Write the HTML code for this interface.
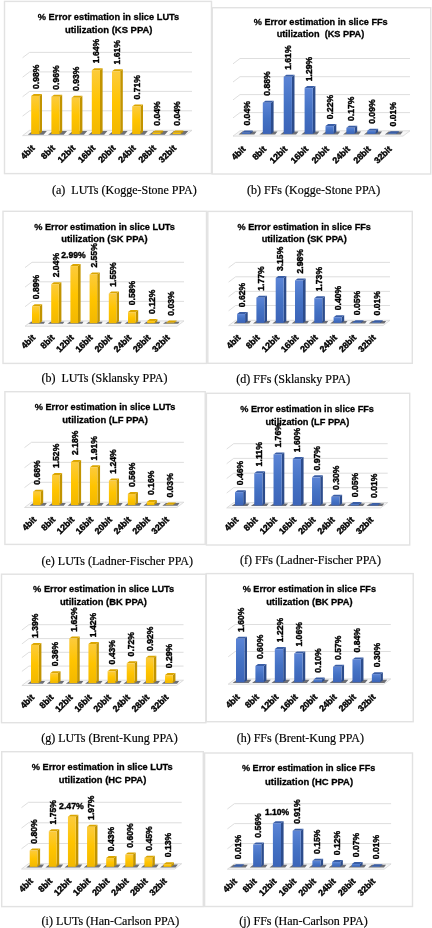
<!DOCTYPE html>
<html><head><meta charset="utf-8"><style>
html,body{margin:0;padding:0;background:#fff;}
body{width:432px;height:928px;overflow:hidden;position:relative;}
svg{position:absolute;left:0;top:0;will-change:transform;filter:blur(0.3px);}
.bx{fill:none;stroke:#e2e2e2;stroke-width:1.4;}
.gl{fill:none;stroke:#dadada;stroke-width:0.9;}
.fl{fill:#f7f7f7;stroke:#d6d6d6;stroke-width:0.8;}
.sh{fill:#3a3c44;opacity:.72;}
.sy{fill:#c29400;} .ty{fill:#dba600;}
.sb{fill:#2c4c8c;} .tb{fill:#3a5ea6;}
text{font-family:"Liberation Sans",sans-serif;}
.vl{font-size:9.8px;font-weight:bold;fill:#000;stroke:#000;stroke-width:0.42px;}
.xl{font-size:8.75px;font-weight:bold;fill:#000;text-anchor:end;stroke:#000;stroke-width:0.42px;}
.tt{font-size:9.6px;font-weight:bold;fill:#000;stroke:#000;stroke-width:0.3px;}
.cp{font-family:"Liberation Serif",serif;font-size:12px;fill:#000;stroke:#000;stroke-width:0.18px;}
</style></head><body>
<svg width="432" height="928" viewBox="0 0 432 928">
<defs>
<filter id="bl" x="-5%" y="-50%" width="110%" height="200%"><feGaussianBlur stdDeviation="0.45"/></filter>
<linearGradient id="fy" x1="0" y1="0" x2="0" y2="1"><stop offset="0" stop-color="#fccb3c"/><stop offset=".5" stop-color="#ffc400"/><stop offset="1" stop-color="#f2b800"/></linearGradient>
<linearGradient id="fb" x1="0" y1="0" x2="0" y2="1"><stop offset="0" stop-color="#5b84d6"/><stop offset=".5" stop-color="#4472c4"/><stop offset="1" stop-color="#3c64b8"/></linearGradient>
</defs>
<rect x="4.5" y="1.4" width="207" height="172.2" class="bx"/>
<path d="M22.6 57.7L29.6 52.4H192" class="gl"/>
<path d="M22.6 77.2L29.6 71.9H192" class="gl"/>
<path d="M22.6 96.7L29.6 91.4H192" class="gl"/>
<path d="M22.6 116.1L29.6 110.8H192" class="gl"/>
<path d="M22.6 135.6L29.6 130.3H192L185 135.6Z" class="fl"/>
<path d="M27.8 134.7L32.55 131.1H46.85L43.6 134.7ZM48 134.7L52.75 131.1H67.05L63.8 134.7ZM68.2 134.7L72.95 131.1H87.25L84 134.7ZM88.4 134.7L93.15 131.1H107.45L104.2 134.7ZM108.6 134.7L113.35 131.1H127.65L124.4 134.7ZM128.8 134.7L133.55 131.1H147.85L144.6 134.7ZM149 134.7L153.75 131.1H168.05L164.8 134.7ZM169.2 134.7L173.95 131.1H188.25L185 134.7Z" class="sh" filter="url(#bl)"/>
<path d="M39.4 95.88l2.6 -2.0V132.1l-2.6 2.0Z" class="sy"/>
<path d="M31.2 95.88l2.6 -2.0h8.2l-2.6 2.0Z" class="ty"/>
<rect x="31.2" y="95.88" width="8.2" height="38.22" fill="url(#fy)"/>
<path d="M59.6 96.66l2.6 -2.0V132.1l-2.6 2.0Z" class="sy"/>
<path d="M51.4 96.66l2.6 -2.0h8.2l-2.6 2.0Z" class="ty"/>
<rect x="51.4" y="96.66" width="8.2" height="37.44" fill="url(#fy)"/>
<path d="M79.8 97.83l2.6 -2.0V132.1l-2.6 2.0Z" class="sy"/>
<path d="M71.6 97.83l2.6 -2.0h8.2l-2.6 2.0Z" class="ty"/>
<rect x="71.6" y="97.83" width="8.2" height="36.27" fill="url(#fy)"/>
<path d="M100 70.14l2.6 -2.0V132.1l-2.6 2.0Z" class="sy"/>
<path d="M91.8 70.14l2.6 -2.0h8.2l-2.6 2.0Z" class="ty"/>
<rect x="91.8" y="70.14" width="8.2" height="63.96" fill="url(#fy)"/>
<path d="M120.2 71.31l2.6 -2.0V132.1l-2.6 2.0Z" class="sy"/>
<path d="M112 71.31l2.6 -2.0h8.2l-2.6 2.0Z" class="ty"/>
<rect x="112" y="71.31" width="8.2" height="62.79" fill="url(#fy)"/>
<path d="M140.4 106.41l2.6 -2.0V132.1l-2.6 2.0Z" class="sy"/>
<path d="M132.2 106.41l2.6 -2.0h8.2l-2.6 2.0Z" class="ty"/>
<rect x="132.2" y="106.41" width="8.2" height="27.69" fill="url(#fy)"/>
<path d="M160.6 132.54l2.6 -2.0V132.1l-2.6 2.0Z" class="sy"/>
<path d="M152.4 132.54l2.6 -2.0h8.2l-2.6 2.0Z" class="ty"/>
<rect x="152.4" y="132.54" width="8.2" height="1.56" fill="url(#fy)"/>
<path d="M180.8 132.54l2.6 -2.0V132.1l-2.6 2.0Z" class="sy"/>
<path d="M172.6 132.54l2.6 -2.0h8.2l-2.6 2.0Z" class="ty"/>
<rect x="172.6" y="132.54" width="8.2" height="1.56" fill="url(#fy)"/>
<text transform="translate(38.8 88.98) rotate(-90)" class="vl" textLength="24.4" lengthAdjust="spacingAndGlyphs">0.98%</text>
<text transform="translate(59 89.76) rotate(-90)" class="vl" textLength="24.4" lengthAdjust="spacingAndGlyphs">0.96%</text>
<text transform="translate(79.2 90.93) rotate(-90)" class="vl" textLength="24.4" lengthAdjust="spacingAndGlyphs">0.93%</text>
<text transform="translate(99.4 63.24) rotate(-90)" class="vl" textLength="24.4" lengthAdjust="spacingAndGlyphs">1.64%</text>
<text transform="translate(119.6 64.41) rotate(-90)" class="vl" textLength="24.4" lengthAdjust="spacingAndGlyphs">1.61%</text>
<text transform="translate(139.8 99.51) rotate(-90)" class="vl" textLength="24.4" lengthAdjust="spacingAndGlyphs">0.71%</text>
<text transform="translate(160 125.64) rotate(-90)" class="vl" textLength="24.4" lengthAdjust="spacingAndGlyphs">0.04%</text>
<text transform="translate(180.2 125.64) rotate(-90)" class="vl" textLength="24.4" lengthAdjust="spacingAndGlyphs">0.04%</text>
<text transform="translate(35.3 148.7) rotate(-45)" class="xl">4bit</text>
<text transform="translate(55.5 148.7) rotate(-45)" class="xl">8bit</text>
<text transform="translate(75.7 148.7) rotate(-45)" class="xl">12bit</text>
<text transform="translate(95.9 148.7) rotate(-45)" class="xl">16bit</text>
<text transform="translate(116.1 148.7) rotate(-45)" class="xl">20bit</text>
<text transform="translate(136.3 148.7) rotate(-45)" class="xl">24bit</text>
<text transform="translate(156.5 148.7) rotate(-45)" class="xl">28bit</text>
<text transform="translate(176.7 148.7) rotate(-45)" class="xl">32bit</text>
<text x="37.8" y="19.8" class="tt" textLength="141.4" lengthAdjust="spacingAndGlyphs">% Error estimation in slice LUTs</text>
<text x="64.9" y="32.7" class="tt" textLength="87.6" lengthAdjust="spacingAndGlyphs">utilization (KS PPA)</text>
<text x="52" y="194.4" class="cp">(a)  LUTs (Kogge-Stone PPA)</text>
<rect x="212.2" y="7.7" width="218.5" height="166.3" class="bx"/>
<path d="M233 63.8L240 58.5H410" class="gl"/>
<path d="M233 82L240 76.7H410" class="gl"/>
<path d="M233 99.9L240 94.6H410" class="gl"/>
<path d="M233 117.9L240 112.6H410" class="gl"/>
<path d="M233 136.1L240 130.8H410L403 136.1Z" class="fl"/>
<path d="M238.5 134.5L242.33 131.6H256.63L254.3 134.5ZM259.4 134.5L263.23 131.6H277.53L275.2 134.5ZM280.3 134.5L284.13 131.6H298.43L296.1 134.5ZM301.2 134.5L305.03 131.6H319.33L317 134.5ZM322.1 134.5L325.93 131.6H340.23L337.9 134.5ZM343 134.5L346.83 131.6H361.13L358.8 134.5ZM363.9 134.5L367.73 131.6H382.03L379.7 134.5ZM384.8 134.5L388.63 131.6H402.93L400.6 134.5Z" class="sh" filter="url(#bl)"/>
<path d="M250.1 132.48l2.6 -2.0V131.9l-2.6 2.0Z" class="sb"/>
<path d="M241.9 132.48l2.6 -2.0h8.2l-2.6 2.0Z" class="tb"/>
<rect x="241.9" y="132.48" width="8.2" height="1.42" fill="url(#fb)"/>
<path d="M271 102.66l2.6 -2.0V131.9l-2.6 2.0Z" class="sb"/>
<path d="M262.8 102.66l2.6 -2.0h8.2l-2.6 2.0Z" class="tb"/>
<rect x="262.8" y="102.66" width="8.2" height="31.24" fill="url(#fb)"/>
<path d="M291.9 76.75l2.6 -2.0V131.9l-2.6 2.0Z" class="sb"/>
<path d="M283.7 76.75l2.6 -2.0h8.2l-2.6 2.0Z" class="tb"/>
<rect x="283.7" y="76.75" width="8.2" height="57.16" fill="url(#fb)"/>
<path d="M312.8 88.11l2.6 -2.0V131.9l-2.6 2.0Z" class="sb"/>
<path d="M304.6 88.11l2.6 -2.0h8.2l-2.6 2.0Z" class="tb"/>
<rect x="304.6" y="88.11" width="8.2" height="45.8" fill="url(#fb)"/>
<path d="M333.7 126.09l2.6 -2.0V131.9l-2.6 2.0Z" class="sb"/>
<path d="M325.5 126.09l2.6 -2.0h8.2l-2.6 2.0Z" class="tb"/>
<rect x="325.5" y="126.09" width="8.2" height="7.81" fill="url(#fb)"/>
<path d="M354.6 127.87l2.6 -2.0V131.9l-2.6 2.0Z" class="sb"/>
<path d="M346.4 127.87l2.6 -2.0h8.2l-2.6 2.0Z" class="tb"/>
<rect x="346.4" y="127.87" width="8.2" height="6.04" fill="url(#fb)"/>
<path d="M375.5 130.71l2.6 -2.0V131.9l-2.6 2.0Z" class="sb"/>
<path d="M367.3 130.71l2.6 -2.0h8.2l-2.6 2.0Z" class="tb"/>
<rect x="367.3" y="130.71" width="8.2" height="3.19" fill="url(#fb)"/>
<path d="M396.4 133.3l2.6 -2.0V131.9l-2.6 2.0Z" class="sb"/>
<path d="M388.2 133.3l2.6 -2.0h8.2l-2.6 2.0Z" class="tb"/>
<rect x="388.2" y="133.3" width="8.2" height="0.6" fill="url(#fb)"/>
<text transform="translate(249.5 125.58) rotate(-90)" class="vl" textLength="24.4" lengthAdjust="spacingAndGlyphs">0.04%</text>
<text transform="translate(270.4 95.76) rotate(-90)" class="vl" textLength="24.4" lengthAdjust="spacingAndGlyphs">0.88%</text>
<text transform="translate(291.3 69.84) rotate(-90)" class="vl" textLength="24.4" lengthAdjust="spacingAndGlyphs">1.61%</text>
<text transform="translate(312.2 81.2) rotate(-90)" class="vl" textLength="24.4" lengthAdjust="spacingAndGlyphs">1.29%</text>
<text transform="translate(333.1 119.19) rotate(-90)" class="vl" textLength="24.4" lengthAdjust="spacingAndGlyphs">0.22%</text>
<text transform="translate(354 120.97) rotate(-90)" class="vl" textLength="24.4" lengthAdjust="spacingAndGlyphs">0.17%</text>
<text transform="translate(374.9 123.81) rotate(-90)" class="vl" textLength="24.4" lengthAdjust="spacingAndGlyphs">0.09%</text>
<text transform="translate(395.8 126.4) rotate(-90)" class="vl" textLength="24.4" lengthAdjust="spacingAndGlyphs">0.01%</text>
<text transform="translate(246 149.6) rotate(-45)" class="xl">4bit</text>
<text transform="translate(266.9 149.6) rotate(-45)" class="xl">8bit</text>
<text transform="translate(287.8 149.6) rotate(-45)" class="xl">12bit</text>
<text transform="translate(308.7 149.6) rotate(-45)" class="xl">16bit</text>
<text transform="translate(329.6 149.6) rotate(-45)" class="xl">20bit</text>
<text transform="translate(350.5 149.6) rotate(-45)" class="xl">24bit</text>
<text transform="translate(371.4 149.6) rotate(-45)" class="xl">28bit</text>
<text transform="translate(392.3 149.6) rotate(-45)" class="xl">32bit</text>
<text x="253.7" y="24.6" class="tt" textLength="134" lengthAdjust="spacingAndGlyphs">% Error estimation in slice FFs</text>
<text x="276.7" y="37.1" class="tt" textLength="87.6" lengthAdjust="spacingAndGlyphs">utilization  (KS PPA)</text>
<text x="247" y="194.4" class="cp">(b) FFs (Kogge-Stone PPA)</text>
<rect x="3" y="211.3" width="203.5" height="152.1" class="bx"/>
<path d="M25 267.6L32 262.3H184" class="gl"/>
<path d="M25 287.1L32 281.8H184" class="gl"/>
<path d="M25 306.7L32 301.4H184" class="gl"/>
<path d="M25 326.2L32 320.9H184L177 326.2Z" class="fl"/>
<path d="M28.6 323.8L31.37 321.7H45.07L43.8 323.8ZM47.8 323.8L50.57 321.7H64.27L63 323.8ZM67 323.8L69.77 321.7H83.47L82.2 323.8ZM86.2 323.8L88.97 321.7H102.67L101.4 323.8ZM105.4 323.8L108.17 321.7H121.87L120.6 323.8ZM124.6 323.8L127.37 321.7H141.07L139.8 323.8ZM143.8 323.8L146.57 321.7H160.27L159 323.8ZM163 323.8L165.77 321.7H179.47L178.2 323.8Z" class="sh" filter="url(#bl)"/>
<path d="M39.6 306.2l2.6 -2.0V321.2l-2.6 2.0Z" class="sy"/>
<path d="M32 306.2l2.6 -2.0h7.6l-2.6 2.0Z" class="ty"/>
<rect x="32" y="306.2" width="7.6" height="17" fill="url(#fy)"/>
<path d="M58.8 284.24l2.6 -2.0V321.2l-2.6 2.0Z" class="sy"/>
<path d="M51.2 284.24l2.6 -2.0h7.6l-2.6 2.0Z" class="ty"/>
<rect x="51.2" y="284.24" width="7.6" height="38.96" fill="url(#fy)"/>
<path d="M78 266.09l2.6 -2.0V321.2l-2.6 2.0Z" class="sy"/>
<path d="M70.4 266.09l2.6 -2.0h7.6l-2.6 2.0Z" class="ty"/>
<rect x="70.4" y="266.09" width="7.6" height="57.11" fill="url(#fy)"/>
<path d="M97.2 274.5l2.6 -2.0V321.2l-2.6 2.0Z" class="sy"/>
<path d="M89.6 274.5l2.6 -2.0h7.6l-2.6 2.0Z" class="ty"/>
<rect x="89.6" y="274.5" width="7.6" height="48.7" fill="url(#fy)"/>
<path d="M116.4 293.59l2.6 -2.0V321.2l-2.6 2.0Z" class="sy"/>
<path d="M108.8 293.59l2.6 -2.0h7.6l-2.6 2.0Z" class="ty"/>
<rect x="108.8" y="293.59" width="7.6" height="29.61" fill="url(#fy)"/>
<path d="M135.6 312.12l2.6 -2.0V321.2l-2.6 2.0Z" class="sy"/>
<path d="M128 312.12l2.6 -2.0h7.6l-2.6 2.0Z" class="ty"/>
<rect x="128" y="312.12" width="7.6" height="11.08" fill="url(#fy)"/>
<path d="M154.8 320.91l2.6 -2.0V321.2l-2.6 2.0Z" class="sy"/>
<path d="M147.2 320.91l2.6 -2.0h7.6l-2.6 2.0Z" class="ty"/>
<rect x="147.2" y="320.91" width="7.6" height="2.29" fill="url(#fy)"/>
<path d="M174 322.6l2.6 -2.0V321.2l-2.6 2.0Z" class="sy"/>
<path d="M166.4 322.6l2.6 -2.0h7.6l-2.6 2.0Z" class="ty"/>
<rect x="166.4" y="322.6" width="7.6" height="0.6" fill="url(#fy)"/>
<text transform="translate(39.3 299.3) rotate(-90)" class="vl" textLength="24.4" lengthAdjust="spacingAndGlyphs">0.89%</text>
<text transform="translate(58.5 277.34) rotate(-90)" class="vl" textLength="24.4" lengthAdjust="spacingAndGlyphs">2.04%</text>
<text x="61.3" y="258.3" class="vl" textLength="24.4" lengthAdjust="spacingAndGlyphs">2.99%</text>
<text transform="translate(96.9 267.6) rotate(-90)" class="vl" textLength="24.4" lengthAdjust="spacingAndGlyphs">2.55%</text>
<text transform="translate(116.1 286.69) rotate(-90)" class="vl" textLength="24.4" lengthAdjust="spacingAndGlyphs">1.55%</text>
<text transform="translate(135.3 305.22) rotate(-90)" class="vl" textLength="24.4" lengthAdjust="spacingAndGlyphs">0.58%</text>
<text transform="translate(154.5 314.01) rotate(-90)" class="vl" textLength="24.4" lengthAdjust="spacingAndGlyphs">0.12%</text>
<text transform="translate(173.7 315.7) rotate(-90)" class="vl" textLength="24.4" lengthAdjust="spacingAndGlyphs">0.03%</text>
<text transform="translate(35.8 338.3) rotate(-45)" class="xl">4bit</text>
<text transform="translate(55 338.3) rotate(-45)" class="xl">8bit</text>
<text transform="translate(74.2 338.3) rotate(-45)" class="xl">12bit</text>
<text transform="translate(93.4 338.3) rotate(-45)" class="xl">16bit</text>
<text transform="translate(112.6 338.3) rotate(-45)" class="xl">20bit</text>
<text transform="translate(131.8 338.3) rotate(-45)" class="xl">24bit</text>
<text transform="translate(151 338.3) rotate(-45)" class="xl">28bit</text>
<text transform="translate(170.2 338.3) rotate(-45)" class="xl">32bit</text>
<text x="34.2" y="230" class="tt" textLength="140.7" lengthAdjust="spacingAndGlyphs">% Error estimation in slice LUTs</text>
<text x="61.2" y="242.4" class="tt" textLength="86.5" lengthAdjust="spacingAndGlyphs">utilization (SK PPA)</text>
<text x="41.4" y="381.8" class="cp">(b)  LUTs (Sklansky PPA)</text>
<rect x="207.8" y="211.4" width="204.5" height="151.9" class="bx"/>
<path d="M228.6 267.7L235.6 262.4H390" class="gl"/>
<path d="M228.6 282.1L235.6 276.8H390" class="gl"/>
<path d="M228.6 296.7L235.6 291.4H390" class="gl"/>
<path d="M228.6 310.8L235.6 305.5H390" class="gl"/>
<path d="M228.6 325.6L235.6 320.3H390L383 325.6Z" class="fl"/>
<path d="M233.7 323.5L236.87 321.1H250.97L249.3 323.5ZM253 323.5L256.17 321.1H270.27L268.6 323.5ZM272.3 323.5L275.47 321.1H289.57L287.9 323.5ZM291.6 323.5L294.77 321.1H308.87L307.2 323.5ZM310.9 323.5L314.07 321.1H328.17L326.5 323.5ZM330.2 323.5L333.37 321.1H347.47L345.8 323.5ZM349.5 323.5L352.67 321.1H366.77L365.1 323.5ZM368.8 323.5L371.97 321.1H386.07L384.4 323.5Z" class="sh" filter="url(#bl)"/>
<path d="M245.1 314.06l2.6 -2.0V320.9l-2.6 2.0Z" class="sb"/>
<path d="M237.1 314.06l2.6 -2.0h8.0l-2.6 2.0Z" class="tb"/>
<rect x="237.1" y="314.06" width="8.0" height="8.83" fill="url(#fb)"/>
<path d="M264.4 297.68l2.6 -2.0V320.9l-2.6 2.0Z" class="sb"/>
<path d="M256.4 297.68l2.6 -2.0h8.0l-2.6 2.0Z" class="tb"/>
<rect x="256.4" y="297.68" width="8.0" height="25.22" fill="url(#fb)"/>
<path d="M283.7 278.01l2.6 -2.0V320.9l-2.6 2.0Z" class="sb"/>
<path d="M275.7 278.01l2.6 -2.0h8.0l-2.6 2.0Z" class="tb"/>
<rect x="275.7" y="278.01" width="8.0" height="44.89" fill="url(#fb)"/>
<path d="M303 280.44l2.6 -2.0V320.9l-2.6 2.0Z" class="sb"/>
<path d="M295 280.44l2.6 -2.0h8.0l-2.6 2.0Z" class="tb"/>
<rect x="295" y="280.44" width="8.0" height="42.46" fill="url(#fb)"/>
<path d="M322.3 298.25l2.6 -2.0V320.9l-2.6 2.0Z" class="sb"/>
<path d="M314.3 298.25l2.6 -2.0h8.0l-2.6 2.0Z" class="tb"/>
<rect x="314.3" y="298.25" width="8.0" height="24.65" fill="url(#fb)"/>
<path d="M341.6 317.2l2.6 -2.0V320.9l-2.6 2.0Z" class="sb"/>
<path d="M333.6 317.2l2.6 -2.0h8.0l-2.6 2.0Z" class="tb"/>
<rect x="333.6" y="317.2" width="8.0" height="5.7" fill="url(#fb)"/>
<path d="M360.9 322.19l2.6 -2.0V320.9l-2.6 2.0Z" class="sb"/>
<path d="M352.9 322.19l2.6 -2.0h8.0l-2.6 2.0Z" class="tb"/>
<rect x="352.9" y="322.19" width="8.0" height="0.71" fill="url(#fb)"/>
<path d="M380.2 322.3l2.6 -2.0V320.9l-2.6 2.0Z" class="sb"/>
<path d="M372.2 322.3l2.6 -2.0h8.0l-2.6 2.0Z" class="tb"/>
<rect x="372.2" y="322.3" width="8.0" height="0.6" fill="url(#fb)"/>
<text transform="translate(244.6 307.17) rotate(-90)" class="vl" textLength="24.4" lengthAdjust="spacingAndGlyphs">0.62%</text>
<text transform="translate(263.9 290.78) rotate(-90)" class="vl" textLength="24.4" lengthAdjust="spacingAndGlyphs">1.77%</text>
<text transform="translate(283.2 271.11) rotate(-90)" class="vl" textLength="24.4" lengthAdjust="spacingAndGlyphs">3.15%</text>
<text transform="translate(302.5 273.54) rotate(-90)" class="vl" textLength="24.4" lengthAdjust="spacingAndGlyphs">2.98%</text>
<text transform="translate(321.8 291.35) rotate(-90)" class="vl" textLength="24.4" lengthAdjust="spacingAndGlyphs">1.73%</text>
<text transform="translate(341.1 310.3) rotate(-90)" class="vl" textLength="24.4" lengthAdjust="spacingAndGlyphs">0.40%</text>
<text transform="translate(360.4 315.29) rotate(-90)" class="vl" textLength="24.4" lengthAdjust="spacingAndGlyphs">0.05%</text>
<text transform="translate(379.7 315.4) rotate(-90)" class="vl" textLength="24.4" lengthAdjust="spacingAndGlyphs">0.01%</text>
<text transform="translate(241.1 338.2) rotate(-45)" class="xl">4bit</text>
<text transform="translate(260.4 338.2) rotate(-45)" class="xl">8bit</text>
<text transform="translate(279.7 338.2) rotate(-45)" class="xl">12bit</text>
<text transform="translate(299 338.2) rotate(-45)" class="xl">16bit</text>
<text transform="translate(318.3 338.2) rotate(-45)" class="xl">20bit</text>
<text transform="translate(337.6 338.2) rotate(-45)" class="xl">24bit</text>
<text transform="translate(356.9 338.2) rotate(-45)" class="xl">28bit</text>
<text transform="translate(376.2 338.2) rotate(-45)" class="xl">32bit</text>
<text x="237.5" y="229.6" class="tt" textLength="133.4" lengthAdjust="spacingAndGlyphs">% Error estimation in slice FFs</text>
<text x="261.7" y="242.1" class="tt" textLength="85.1" lengthAdjust="spacingAndGlyphs">utilization (SK PPA)</text>
<text x="236.3" y="383.2" class="cp">(d) FFs (Sklansky PPA)</text>
<rect x="4.9" y="391.7" width="200.3" height="152.7" class="bx"/>
<path d="M24.5 447.6L31.5 442.3H183.9" class="gl"/>
<path d="M24.5 467.7L31.5 462.4H183.9" class="gl"/>
<path d="M24.5 487.6L31.5 482.3H183.9" class="gl"/>
<path d="M24.5 507.5L31.5 502.2H183.9L176.9 507.5Z" class="fl"/>
<path d="M29.7 505.7L33.27 503H46.87L44.8 505.7ZM48.65 505.7L52.22 503H65.82L63.75 505.7ZM67.6 505.7L71.17 503H84.77L82.7 505.7ZM86.55 505.7L90.12 503H103.72L101.65 505.7ZM105.5 505.7L109.07 503H122.67L120.6 505.7ZM124.45 505.7L128.02 503H141.62L139.55 505.7ZM143.4 505.7L146.97 503H160.57L158.5 505.7ZM162.35 505.7L165.92 503H179.52L177.45 505.7Z" class="sh" filter="url(#bl)"/>
<path d="M40.6 491.64l2.6 -2.0V503.1l-2.6 2.0Z" class="sy"/>
<path d="M33.1 491.64l2.6 -2.0h7.5l-2.6 2.0Z" class="ty"/>
<rect x="33.1" y="491.64" width="7.5" height="13.46" fill="url(#fy)"/>
<path d="M59.55 475l2.6 -2.0V503.1l-2.6 2.0Z" class="sy"/>
<path d="M52.05 475l2.6 -2.0h7.5l-2.6 2.0Z" class="ty"/>
<rect x="52.05" y="475" width="7.5" height="30.1" fill="url(#fy)"/>
<path d="M78.5 461.94l2.6 -2.0V503.1l-2.6 2.0Z" class="sy"/>
<path d="M71 461.94l2.6 -2.0h7.5l-2.6 2.0Z" class="ty"/>
<rect x="71" y="461.94" width="7.5" height="43.16" fill="url(#fy)"/>
<path d="M97.45 467.28l2.6 -2.0V503.1l-2.6 2.0Z" class="sy"/>
<path d="M89.95 467.28l2.6 -2.0h7.5l-2.6 2.0Z" class="ty"/>
<rect x="89.95" y="467.28" width="7.5" height="37.82" fill="url(#fy)"/>
<path d="M116.4 480.55l2.6 -2.0V503.1l-2.6 2.0Z" class="sy"/>
<path d="M108.9 480.55l2.6 -2.0h7.5l-2.6 2.0Z" class="ty"/>
<rect x="108.9" y="480.55" width="7.5" height="24.55" fill="url(#fy)"/>
<path d="M135.35 494.01l2.6 -2.0V503.1l-2.6 2.0Z" class="sy"/>
<path d="M127.85 494.01l2.6 -2.0h7.5l-2.6 2.0Z" class="ty"/>
<rect x="127.85" y="494.01" width="7.5" height="11.09" fill="url(#fy)"/>
<path d="M154.3 501.93l2.6 -2.0V503.1l-2.6 2.0Z" class="sy"/>
<path d="M146.8 501.93l2.6 -2.0h7.5l-2.6 2.0Z" class="ty"/>
<rect x="146.8" y="501.93" width="7.5" height="3.17" fill="url(#fy)"/>
<path d="M173.25 504.5l2.6 -2.0V503.1l-2.6 2.0Z" class="sy"/>
<path d="M165.75 504.5l2.6 -2.0h7.5l-2.6 2.0Z" class="ty"/>
<rect x="165.75" y="504.5" width="7.5" height="0.6" fill="url(#fy)"/>
<text transform="translate(40.35 484.74) rotate(-90)" class="vl" textLength="24.4" lengthAdjust="spacingAndGlyphs">0.68%</text>
<text transform="translate(59.3 468.1) rotate(-90)" class="vl" textLength="24.4" lengthAdjust="spacingAndGlyphs">1.52%</text>
<text transform="translate(78.25 455.04) rotate(-90)" class="vl" textLength="24.4" lengthAdjust="spacingAndGlyphs">2.18%</text>
<text transform="translate(97.2 460.38) rotate(-90)" class="vl" textLength="24.4" lengthAdjust="spacingAndGlyphs">1.91%</text>
<text transform="translate(116.15 473.65) rotate(-90)" class="vl" textLength="24.4" lengthAdjust="spacingAndGlyphs">1.24%</text>
<text transform="translate(135.1 487.11) rotate(-90)" class="vl" textLength="24.4" lengthAdjust="spacingAndGlyphs">0.56%</text>
<text transform="translate(154.05 495.03) rotate(-90)" class="vl" textLength="24.4" lengthAdjust="spacingAndGlyphs">0.16%</text>
<text transform="translate(173 497.6) rotate(-90)" class="vl" textLength="24.4" lengthAdjust="spacingAndGlyphs">0.03%</text>
<text transform="translate(36.85 520.3) rotate(-45)" class="xl">4bit</text>
<text transform="translate(55.8 520.3) rotate(-45)" class="xl">8bit</text>
<text transform="translate(74.75 520.3) rotate(-45)" class="xl">12bit</text>
<text transform="translate(93.7 520.3) rotate(-45)" class="xl">16bit</text>
<text transform="translate(112.65 520.3) rotate(-45)" class="xl">20bit</text>
<text transform="translate(131.6 520.3) rotate(-45)" class="xl">24bit</text>
<text transform="translate(150.55 520.3) rotate(-45)" class="xl">28bit</text>
<text transform="translate(169.5 520.3) rotate(-45)" class="xl">32bit</text>
<text x="34.7" y="409.7" class="tt" textLength="140.7" lengthAdjust="spacingAndGlyphs">% Error estimation in slice LUTs</text>
<text x="62.3" y="423" class="tt" textLength="85.5" lengthAdjust="spacingAndGlyphs">utilization (LF PPA)</text>
<text x="41.5" y="564.5" class="cp">(e) LUTs (Ladner-Fischer PPA)</text>
<rect x="206.4" y="393.3" width="203.3" height="151.7" class="bx"/>
<path d="M226.7 449L233.7 443.7H387.7" class="gl"/>
<path d="M226.7 463.7L233.7 458.4H387.7" class="gl"/>
<path d="M226.7 478.5L233.7 473.2H387.7" class="gl"/>
<path d="M226.7 493L233.7 487.7H387.7" class="gl"/>
<path d="M226.7 507.9L233.7 502.6H387.7L380.7 507.9Z" class="fl"/>
<path d="M231.6 506.1L235.17 503.4H249.47L247.4 506.1ZM250.86 506.1L254.43 503.4H268.73L266.66 506.1ZM270.12 506.1L273.69 503.4H287.99L285.92 506.1ZM289.38 506.1L292.95 503.4H307.25L305.18 506.1ZM308.64 506.1L312.21 503.4H326.51L324.44 506.1ZM327.9 506.1L331.47 503.4H345.77L343.7 506.1ZM347.16 506.1L350.73 503.4H365.03L362.96 506.1ZM366.42 506.1L369.99 503.4H384.29L382.22 506.1Z" class="sh" filter="url(#bl)"/>
<path d="M243.2 492.16l2.6 -2.0V503.5l-2.6 2.0Z" class="sb"/>
<path d="M235 492.16l2.6 -2.0h8.2l-2.6 2.0Z" class="tb"/>
<rect x="235" y="492.16" width="8.2" height="13.34" fill="url(#fb)"/>
<path d="M262.46 473.31l2.6 -2.0V503.5l-2.6 2.0Z" class="sb"/>
<path d="M254.26 473.31l2.6 -2.0h8.2l-2.6 2.0Z" class="tb"/>
<rect x="254.26" y="473.31" width="8.2" height="32.19" fill="url(#fb)"/>
<path d="M281.72 454.46l2.6 -2.0V503.5l-2.6 2.0Z" class="sb"/>
<path d="M273.52 454.46l2.6 -2.0h8.2l-2.6 2.0Z" class="tb"/>
<rect x="273.52" y="454.46" width="8.2" height="51.04" fill="url(#fb)"/>
<path d="M300.98 459.1l2.6 -2.0V503.5l-2.6 2.0Z" class="sb"/>
<path d="M292.78 459.1l2.6 -2.0h8.2l-2.6 2.0Z" class="tb"/>
<rect x="292.78" y="459.1" width="8.2" height="46.4" fill="url(#fb)"/>
<path d="M320.24 477.37l2.6 -2.0V503.5l-2.6 2.0Z" class="sb"/>
<path d="M312.04 477.37l2.6 -2.0h8.2l-2.6 2.0Z" class="tb"/>
<rect x="312.04" y="477.37" width="8.2" height="28.13" fill="url(#fb)"/>
<path d="M339.5 496.8l2.6 -2.0V503.5l-2.6 2.0Z" class="sb"/>
<path d="M331.3 496.8l2.6 -2.0h8.2l-2.6 2.0Z" class="tb"/>
<rect x="331.3" y="496.8" width="8.2" height="8.7" fill="url(#fb)"/>
<path d="M358.76 504.05l2.6 -2.0V503.5l-2.6 2.0Z" class="sb"/>
<path d="M350.56 504.05l2.6 -2.0h8.2l-2.6 2.0Z" class="tb"/>
<rect x="350.56" y="504.05" width="8.2" height="1.45" fill="url(#fb)"/>
<path d="M378.02 504.9l2.6 -2.0V503.5l-2.6 2.0Z" class="sb"/>
<path d="M369.82 504.9l2.6 -2.0h8.2l-2.6 2.0Z" class="tb"/>
<rect x="369.82" y="504.9" width="8.2" height="0.6" fill="url(#fb)"/>
<text transform="translate(242.6 485.26) rotate(-90)" class="vl" textLength="24.4" lengthAdjust="spacingAndGlyphs">0.46%</text>
<text transform="translate(261.86 466.41) rotate(-90)" class="vl" textLength="24.4" lengthAdjust="spacingAndGlyphs">1.11%</text>
<text transform="translate(281.12 447.56) rotate(-90)" class="vl" textLength="24.4" lengthAdjust="spacingAndGlyphs">1.76%</text>
<text transform="translate(300.38 452.2) rotate(-90)" class="vl" textLength="24.4" lengthAdjust="spacingAndGlyphs">1.60%</text>
<text transform="translate(319.64 470.47) rotate(-90)" class="vl" textLength="24.4" lengthAdjust="spacingAndGlyphs">0.97%</text>
<text transform="translate(338.9 489.9) rotate(-90)" class="vl" textLength="24.4" lengthAdjust="spacingAndGlyphs">0.30%</text>
<text transform="translate(358.16 497.15) rotate(-90)" class="vl" textLength="24.4" lengthAdjust="spacingAndGlyphs">0.05%</text>
<text transform="translate(377.42 498) rotate(-90)" class="vl" textLength="24.4" lengthAdjust="spacingAndGlyphs">0.01%</text>
<text transform="translate(239.1 520.4) rotate(-45)" class="xl">4bit</text>
<text transform="translate(258.36 520.4) rotate(-45)" class="xl">8bit</text>
<text transform="translate(277.62 520.4) rotate(-45)" class="xl">12bit</text>
<text transform="translate(296.88 520.4) rotate(-45)" class="xl">16bit</text>
<text transform="translate(316.14 520.4) rotate(-45)" class="xl">20bit</text>
<text transform="translate(335.4 520.4) rotate(-45)" class="xl">24bit</text>
<text transform="translate(354.66 520.4) rotate(-45)" class="xl">28bit</text>
<text transform="translate(373.92 520.4) rotate(-45)" class="xl">32bit</text>
<text x="240.3" y="411.5" class="tt" textLength="133.6" lengthAdjust="spacingAndGlyphs">% Error estimation in slice FFs</text>
<text x="265.4" y="424.5" class="tt" textLength="83.9" lengthAdjust="spacingAndGlyphs">utilization (LF PPA)</text>
<text x="240" y="563.75" class="cp">(f) FFs (Ladner-Fischer PPA)</text>
<rect x="1.5" y="574.2" width="204.3" height="148.5" class="bx"/>
<path d="M21.9 630L28.9 624.7H183.5" class="gl"/>
<path d="M21.9 643.9L28.9 638.6H183.5" class="gl"/>
<path d="M21.9 657.6L28.9 652.3H183.5" class="gl"/>
<path d="M21.9 671.4L28.9 666.1H183.5" class="gl"/>
<path d="M21.9 685.5L28.9 680.2H183.5L176.5 685.5Z" class="fl"/>
<path d="M27.6 683.7L31.17 681H45.07L43 683.7ZM46.75 683.7L50.32 681H64.22L62.15 683.7ZM65.9 683.7L69.47 681H83.37L81.3 683.7ZM85.05 683.7L88.62 681H102.52L100.45 683.7ZM104.2 683.7L107.77 681H121.67L119.6 683.7ZM123.35 683.7L126.92 681H140.82L138.75 683.7ZM142.5 683.7L146.07 681H159.97L157.9 683.7ZM161.65 683.7L165.22 681H179.12L177.05 683.7Z" class="sh" filter="url(#bl)"/>
<path d="M38.8 644.88l2.6 -2.0V681.1l-2.6 2.0Z" class="sy"/>
<path d="M31 644.88l2.6 -2.0h7.8l-2.6 2.0Z" class="ty"/>
<rect x="31" y="644.88" width="7.8" height="38.22" fill="url(#fy)"/>
<path d="M57.95 673.2l2.6 -2.0V681.1l-2.6 2.0Z" class="sy"/>
<path d="M50.15 673.2l2.6 -2.0h7.8l-2.6 2.0Z" class="ty"/>
<rect x="50.15" y="673.2" width="7.8" height="9.9" fill="url(#fy)"/>
<path d="M77.1 638.55l2.6 -2.0V681.1l-2.6 2.0Z" class="sy"/>
<path d="M69.3 638.55l2.6 -2.0h7.8l-2.6 2.0Z" class="ty"/>
<rect x="69.3" y="638.55" width="7.8" height="44.55" fill="url(#fy)"/>
<path d="M96.25 644.05l2.6 -2.0V681.1l-2.6 2.0Z" class="sy"/>
<path d="M88.45 644.05l2.6 -2.0h7.8l-2.6 2.0Z" class="ty"/>
<rect x="88.45" y="644.05" width="7.8" height="39.05" fill="url(#fy)"/>
<path d="M115.4 671.27l2.6 -2.0V681.1l-2.6 2.0Z" class="sy"/>
<path d="M107.6 671.27l2.6 -2.0h7.8l-2.6 2.0Z" class="ty"/>
<rect x="107.6" y="671.27" width="7.8" height="11.82" fill="url(#fy)"/>
<path d="M134.55 663.3l2.6 -2.0V681.1l-2.6 2.0Z" class="sy"/>
<path d="M126.75 663.3l2.6 -2.0h7.8l-2.6 2.0Z" class="ty"/>
<rect x="126.75" y="663.3" width="7.8" height="19.8" fill="url(#fy)"/>
<path d="M153.7 657.8l2.6 -2.0V681.1l-2.6 2.0Z" class="sy"/>
<path d="M145.9 657.8l2.6 -2.0h7.8l-2.6 2.0Z" class="ty"/>
<rect x="145.9" y="657.8" width="7.8" height="25.3" fill="url(#fy)"/>
<path d="M172.85 675.12l2.6 -2.0V681.1l-2.6 2.0Z" class="sy"/>
<path d="M165.05 675.12l2.6 -2.0h7.8l-2.6 2.0Z" class="ty"/>
<rect x="165.05" y="675.12" width="7.8" height="7.97" fill="url(#fy)"/>
<text transform="translate(38.4 637.98) rotate(-90)" class="vl" textLength="24.4" lengthAdjust="spacingAndGlyphs">1.39%</text>
<text transform="translate(57.55 666.3) rotate(-90)" class="vl" textLength="24.4" lengthAdjust="spacingAndGlyphs">0.36%</text>
<text transform="translate(76.7 631.65) rotate(-90)" class="vl" textLength="24.4" lengthAdjust="spacingAndGlyphs">1.62%</text>
<text transform="translate(95.85 637.15) rotate(-90)" class="vl" textLength="24.4" lengthAdjust="spacingAndGlyphs">1.42%</text>
<text transform="translate(115 664.38) rotate(-90)" class="vl" textLength="24.4" lengthAdjust="spacingAndGlyphs">0.43%</text>
<text transform="translate(134.15 656.4) rotate(-90)" class="vl" textLength="24.4" lengthAdjust="spacingAndGlyphs">0.72%</text>
<text transform="translate(153.3 650.9) rotate(-90)" class="vl" textLength="24.4" lengthAdjust="spacingAndGlyphs">0.92%</text>
<text transform="translate(172.45 668.23) rotate(-90)" class="vl" textLength="24.4" lengthAdjust="spacingAndGlyphs">0.29%</text>
<text transform="translate(34.9 697.95) rotate(-45)" class="xl">4bit</text>
<text transform="translate(54.05 697.95) rotate(-45)" class="xl">8bit</text>
<text transform="translate(73.2 697.95) rotate(-45)" class="xl">12bit</text>
<text transform="translate(92.35 697.95) rotate(-45)" class="xl">16bit</text>
<text transform="translate(111.5 697.95) rotate(-45)" class="xl">20bit</text>
<text transform="translate(130.65 697.95) rotate(-45)" class="xl">24bit</text>
<text transform="translate(149.8 697.95) rotate(-45)" class="xl">28bit</text>
<text transform="translate(168.95 697.95) rotate(-45)" class="xl">32bit</text>
<text x="33.1" y="592" class="tt" textLength="141.1" lengthAdjust="spacingAndGlyphs">% Error estimation in slice LUTs</text>
<text x="59.9" y="605" class="tt" textLength="87" lengthAdjust="spacingAndGlyphs">utilization (BK PPA)</text>
<text x="41.3" y="742" class="cp">(g) LUTs (Brent-Kung PPA)</text>
<rect x="206.25" y="573.6" width="206.95" height="148.1" class="bx"/>
<path d="M228.2 629.8L235.2 624.5H390.8" class="gl"/>
<path d="M228.2 656.8L235.2 651.5H390.8" class="gl"/>
<path d="M228.2 684.2L235.2 678.9H390.8L383.8 684.2Z" class="fl"/>
<path d="M232.6 682.9L236.83 679.7H251.33L248.6 682.9ZM252.01 682.9L256.24 679.7H270.74L268.01 682.9ZM271.42 682.9L275.65 679.7H290.15L287.42 682.9ZM290.83 682.9L295.06 679.7H309.56L306.83 682.9ZM310.24 682.9L314.47 679.7H328.97L326.24 682.9ZM329.65 682.9L333.88 679.7H348.38L345.65 682.9ZM349.06 682.9L353.29 679.7H367.79L365.06 682.9ZM368.47 682.9L372.7 679.7H387.2L384.47 682.9Z" class="sh" filter="url(#bl)"/>
<path d="M244.4 638.78l2.6 -2.0V680.3l-2.6 2.0Z" class="sb"/>
<path d="M236 638.78l2.6 -2.0h8.4l-2.6 2.0Z" class="tb"/>
<rect x="236" y="638.78" width="8.4" height="43.52" fill="url(#fb)"/>
<path d="M263.81 665.98l2.6 -2.0V680.3l-2.6 2.0Z" class="sb"/>
<path d="M255.41 665.98l2.6 -2.0h8.4l-2.6 2.0Z" class="tb"/>
<rect x="255.41" y="665.98" width="8.4" height="16.32" fill="url(#fb)"/>
<path d="M283.22 649.12l2.6 -2.0V680.3l-2.6 2.0Z" class="sb"/>
<path d="M274.82 649.12l2.6 -2.0h8.4l-2.6 2.0Z" class="tb"/>
<rect x="274.82" y="649.12" width="8.4" height="33.18" fill="url(#fb)"/>
<path d="M302.63 653.47l2.6 -2.0V680.3l-2.6 2.0Z" class="sb"/>
<path d="M294.23 653.47l2.6 -2.0h8.4l-2.6 2.0Z" class="tb"/>
<rect x="294.23" y="653.47" width="8.4" height="28.83" fill="url(#fb)"/>
<path d="M322.04 679.58l2.6 -2.0V680.3l-2.6 2.0Z" class="sb"/>
<path d="M313.64 679.58l2.6 -2.0h8.4l-2.6 2.0Z" class="tb"/>
<rect x="313.64" y="679.58" width="8.4" height="2.72" fill="url(#fb)"/>
<path d="M341.45 666.8l2.6 -2.0V680.3l-2.6 2.0Z" class="sb"/>
<path d="M333.05 666.8l2.6 -2.0h8.4l-2.6 2.0Z" class="tb"/>
<rect x="333.05" y="666.8" width="8.4" height="15.5" fill="url(#fb)"/>
<path d="M360.86 659.45l2.6 -2.0V680.3l-2.6 2.0Z" class="sb"/>
<path d="M352.46 659.45l2.6 -2.0h8.4l-2.6 2.0Z" class="tb"/>
<rect x="352.46" y="659.45" width="8.4" height="22.85" fill="url(#fb)"/>
<path d="M380.27 674.14l2.6 -2.0V680.3l-2.6 2.0Z" class="sb"/>
<path d="M371.87 674.14l2.6 -2.0h8.4l-2.6 2.0Z" class="tb"/>
<rect x="371.87" y="674.14" width="8.4" height="8.16" fill="url(#fb)"/>
<text transform="translate(243.7 631.88) rotate(-90)" class="vl" textLength="24.4" lengthAdjust="spacingAndGlyphs">1.60%</text>
<text transform="translate(263.11 659.08) rotate(-90)" class="vl" textLength="24.4" lengthAdjust="spacingAndGlyphs">0.60%</text>
<text transform="translate(282.52 642.22) rotate(-90)" class="vl" textLength="24.4" lengthAdjust="spacingAndGlyphs">1.22%</text>
<text transform="translate(301.93 646.57) rotate(-90)" class="vl" textLength="24.4" lengthAdjust="spacingAndGlyphs">1.06%</text>
<text transform="translate(321.34 672.68) rotate(-90)" class="vl" textLength="24.4" lengthAdjust="spacingAndGlyphs">0.10%</text>
<text transform="translate(340.75 659.9) rotate(-90)" class="vl" textLength="24.4" lengthAdjust="spacingAndGlyphs">0.57%</text>
<text transform="translate(360.16 652.55) rotate(-90)" class="vl" textLength="24.4" lengthAdjust="spacingAndGlyphs">0.84%</text>
<text transform="translate(379.57 667.24) rotate(-90)" class="vl" textLength="24.4" lengthAdjust="spacingAndGlyphs">0.30%</text>
<text transform="translate(240.2 697.6) rotate(-45)" class="xl">4bit</text>
<text transform="translate(259.61 697.6) rotate(-45)" class="xl">8bit</text>
<text transform="translate(279.02 697.6) rotate(-45)" class="xl">12bit</text>
<text transform="translate(298.43 697.6) rotate(-45)" class="xl">16bit</text>
<text transform="translate(317.84 697.6) rotate(-45)" class="xl">20bit</text>
<text transform="translate(337.25 697.6) rotate(-45)" class="xl">24bit</text>
<text transform="translate(356.66 697.6) rotate(-45)" class="xl">28bit</text>
<text transform="translate(376.07 697.6) rotate(-45)" class="xl">32bit</text>
<text x="242.7" y="592" class="tt" textLength="133.3" lengthAdjust="spacingAndGlyphs">% Error estimation in slice FFs</text>
<text x="266.2" y="604.7" class="tt" textLength="86.4" lengthAdjust="spacingAndGlyphs">utilization (BK PPA)</text>
<text x="236.7" y="741.7" class="cp">(h) FFs (Brent-Kung PPA)</text>
<rect x="1.7" y="751.7" width="201.6" height="154.9" class="bx"/>
<path d="M21.5 807.6L28.5 802.3H181.7" class="gl"/>
<path d="M21.5 828.1L28.5 822.8H181.7" class="gl"/>
<path d="M21.5 848.8L28.5 843.5H181.7" class="gl"/>
<path d="M21.5 869L28.5 863.7H181.7L174.7 869Z" class="fl"/>
<path d="M26.3 867.4L30.13 864.5H44.03L41.7 867.4ZM45.42 867.4L49.25 864.5H63.15L60.82 867.4ZM64.54 867.4L68.37 864.5H82.27L79.94 867.4ZM83.66 867.4L87.49 864.5H101.39L99.06 867.4ZM102.78 867.4L106.61 864.5H120.51L118.18 867.4ZM121.9 867.4L125.73 864.5H139.63L137.3 867.4ZM141.02 867.4L144.85 864.5H158.75L156.42 867.4ZM160.14 867.4L163.97 864.5H177.87L175.54 867.4Z" class="sh" filter="url(#bl)"/>
<path d="M37.5 850.56l2.6 -2.0V864.8l-2.6 2.0Z" class="sy"/>
<path d="M29.7 850.56l2.6 -2.0h7.8l-2.6 2.0Z" class="ty"/>
<rect x="29.7" y="850.56" width="7.8" height="16.24" fill="url(#fy)"/>
<path d="M56.62 831.27l2.6 -2.0V864.8l-2.6 2.0Z" class="sy"/>
<path d="M48.82 831.27l2.6 -2.0h7.8l-2.6 2.0Z" class="ty"/>
<rect x="48.82" y="831.27" width="7.8" height="35.52" fill="url(#fy)"/>
<path d="M75.74 816.66l2.6 -2.0V864.8l-2.6 2.0Z" class="sy"/>
<path d="M67.94 816.66l2.6 -2.0h7.8l-2.6 2.0Z" class="ty"/>
<rect x="67.94" y="816.66" width="7.8" height="50.14" fill="url(#fy)"/>
<path d="M94.86 826.81l2.6 -2.0V864.8l-2.6 2.0Z" class="sy"/>
<path d="M87.06 826.81l2.6 -2.0h7.8l-2.6 2.0Z" class="ty"/>
<rect x="87.06" y="826.81" width="7.8" height="39.99" fill="url(#fy)"/>
<path d="M113.98 858.07l2.6 -2.0V864.8l-2.6 2.0Z" class="sy"/>
<path d="M106.18 858.07l2.6 -2.0h7.8l-2.6 2.0Z" class="ty"/>
<rect x="106.18" y="858.07" width="7.8" height="8.73" fill="url(#fy)"/>
<path d="M133.1 854.62l2.6 -2.0V864.8l-2.6 2.0Z" class="sy"/>
<path d="M125.3 854.62l2.6 -2.0h7.8l-2.6 2.0Z" class="ty"/>
<rect x="125.3" y="854.62" width="7.8" height="12.18" fill="url(#fy)"/>
<path d="M152.22 857.66l2.6 -2.0V864.8l-2.6 2.0Z" class="sy"/>
<path d="M144.42 857.66l2.6 -2.0h7.8l-2.6 2.0Z" class="ty"/>
<rect x="144.42" y="857.66" width="7.8" height="9.13" fill="url(#fy)"/>
<path d="M171.34 864.16l2.6 -2.0V864.8l-2.6 2.0Z" class="sy"/>
<path d="M163.54 864.16l2.6 -2.0h7.8l-2.6 2.0Z" class="ty"/>
<rect x="163.54" y="864.16" width="7.8" height="2.64" fill="url(#fy)"/>
<text transform="translate(37.1 843.66) rotate(-90)" class="vl" textLength="24.4" lengthAdjust="spacingAndGlyphs">0.80%</text>
<text transform="translate(56.22 824.38) rotate(-90)" class="vl" textLength="24.4" lengthAdjust="spacingAndGlyphs">1.75%</text>
<text x="59.1" y="808.7" class="vl" textLength="24.7" lengthAdjust="spacingAndGlyphs">2.47%</text>
<text transform="translate(94.46 819.91) rotate(-90)" class="vl" textLength="24.4" lengthAdjust="spacingAndGlyphs">1.97%</text>
<text transform="translate(113.58 851.17) rotate(-90)" class="vl" textLength="24.4" lengthAdjust="spacingAndGlyphs">0.43%</text>
<text transform="translate(132.7 847.72) rotate(-90)" class="vl" textLength="24.4" lengthAdjust="spacingAndGlyphs">0.60%</text>
<text transform="translate(151.82 850.76) rotate(-90)" class="vl" textLength="24.4" lengthAdjust="spacingAndGlyphs">0.45%</text>
<text transform="translate(170.94 857.26) rotate(-90)" class="vl" textLength="24.4" lengthAdjust="spacingAndGlyphs">0.13%</text>
<text transform="translate(33.6 881.7) rotate(-45)" class="xl">4bit</text>
<text transform="translate(52.72 881.7) rotate(-45)" class="xl">8bit</text>
<text transform="translate(71.84 881.7) rotate(-45)" class="xl">12bit</text>
<text transform="translate(90.96 881.7) rotate(-45)" class="xl">16bit</text>
<text transform="translate(110.08 881.7) rotate(-45)" class="xl">20bit</text>
<text transform="translate(129.2 881.7) rotate(-45)" class="xl">24bit</text>
<text transform="translate(148.32 881.7) rotate(-45)" class="xl">28bit</text>
<text transform="translate(167.44 881.7) rotate(-45)" class="xl">32bit</text>
<text x="31.7" y="769.6" class="tt" textLength="141" lengthAdjust="spacingAndGlyphs">% Error estimation in slice LUTs</text>
<text x="58.7" y="782.5" class="tt" textLength="87.6" lengthAdjust="spacingAndGlyphs">utilization (HC PPA)</text>
<text x="41.6" y="925" class="cp">(i) LUTs (Han-Carlson PPA)</text>
<rect x="204.6" y="753" width="207.9" height="153.5" class="bx"/>
<path d="M227.4 809L234.4 803.7H391.1" class="gl"/>
<path d="M227.4 828.9L234.4 823.6H391.1" class="gl"/>
<path d="M227.4 848.8L234.4 843.5H391.1" class="gl"/>
<path d="M227.4 869.2L234.4 863.9H391.1L384.1 869.2Z" class="fl"/>
<path d="M230 867.4L233.57 864.7H247.77L245.7 867.4ZM249.75 867.4L253.32 864.7H267.52L265.45 867.4ZM269.5 867.4L273.07 864.7H287.27L285.2 867.4ZM289.25 867.4L292.82 864.7H307.02L304.95 867.4ZM309 867.4L312.57 864.7H326.77L324.7 867.4ZM328.75 867.4L332.32 864.7H346.52L344.45 867.4ZM348.5 867.4L352.07 864.7H366.27L364.2 867.4ZM368.25 867.4L371.82 864.7H386.02L383.95 867.4Z" class="sh" filter="url(#bl)"/>
<path d="M241.5 866.2l2.6 -2.0V864.8l-2.6 2.0Z" class="sb"/>
<path d="M233.4 866.2l2.6 -2.0h8.1l-2.6 2.0Z" class="tb"/>
<rect x="233.4" y="866.2" width="8.1" height="0.6" fill="url(#fb)"/>
<path d="M261.25 844.62l2.6 -2.0V864.8l-2.6 2.0Z" class="sb"/>
<path d="M253.15 844.62l2.6 -2.0h8.1l-2.6 2.0Z" class="tb"/>
<rect x="253.15" y="844.62" width="8.1" height="22.18" fill="url(#fb)"/>
<path d="M281 823.24l2.6 -2.0V864.8l-2.6 2.0Z" class="sb"/>
<path d="M272.9 823.24l2.6 -2.0h8.1l-2.6 2.0Z" class="tb"/>
<rect x="272.9" y="823.24" width="8.1" height="43.56" fill="url(#fb)"/>
<path d="M300.75 830.76l2.6 -2.0V864.8l-2.6 2.0Z" class="sb"/>
<path d="M292.65 830.76l2.6 -2.0h8.1l-2.6 2.0Z" class="tb"/>
<rect x="292.65" y="830.76" width="8.1" height="36.04" fill="url(#fb)"/>
<path d="M320.5 860.86l2.6 -2.0V864.8l-2.6 2.0Z" class="sb"/>
<path d="M312.4 860.86l2.6 -2.0h8.1l-2.6 2.0Z" class="tb"/>
<rect x="312.4" y="860.86" width="8.1" height="5.94" fill="url(#fb)"/>
<path d="M340.25 862.05l2.6 -2.0V864.8l-2.6 2.0Z" class="sb"/>
<path d="M332.15 862.05l2.6 -2.0h8.1l-2.6 2.0Z" class="tb"/>
<rect x="332.15" y="862.05" width="8.1" height="4.75" fill="url(#fb)"/>
<path d="M360 864.03l2.6 -2.0V864.8l-2.6 2.0Z" class="sb"/>
<path d="M351.9 864.03l2.6 -2.0h8.1l-2.6 2.0Z" class="tb"/>
<rect x="351.9" y="864.03" width="8.1" height="2.77" fill="url(#fb)"/>
<path d="M379.75 866.2l2.6 -2.0V864.8l-2.6 2.0Z" class="sb"/>
<path d="M371.65 866.2l2.6 -2.0h8.1l-2.6 2.0Z" class="tb"/>
<rect x="371.65" y="866.2" width="8.1" height="0.6" fill="url(#fb)"/>
<text transform="translate(240.95 859.3) rotate(-90)" class="vl" textLength="24.4" lengthAdjust="spacingAndGlyphs">0.01%</text>
<text transform="translate(260.7 837.72) rotate(-90)" class="vl" textLength="24.4" lengthAdjust="spacingAndGlyphs">0.56%</text>
<text x="265" y="815.3" class="vl" textLength="24.2" lengthAdjust="spacingAndGlyphs">1.10%</text>
<text transform="translate(300.2 823.86) rotate(-90)" class="vl" textLength="24.4" lengthAdjust="spacingAndGlyphs">0.91%</text>
<text transform="translate(319.95 853.96) rotate(-90)" class="vl" textLength="24.4" lengthAdjust="spacingAndGlyphs">0.15%</text>
<text transform="translate(339.7 855.15) rotate(-90)" class="vl" textLength="24.4" lengthAdjust="spacingAndGlyphs">0.12%</text>
<text transform="translate(359.45 857.13) rotate(-90)" class="vl" textLength="24.4" lengthAdjust="spacingAndGlyphs">0.07%</text>
<text transform="translate(379.2 859.3) rotate(-90)" class="vl" textLength="24.4" lengthAdjust="spacingAndGlyphs">0.01%</text>
<text transform="translate(237.45 882) rotate(-45)" class="xl">4bit</text>
<text transform="translate(257.2 882) rotate(-45)" class="xl">8bit</text>
<text transform="translate(276.95 882) rotate(-45)" class="xl">12bit</text>
<text transform="translate(296.7 882) rotate(-45)" class="xl">16bit</text>
<text transform="translate(316.45 882) rotate(-45)" class="xl">20bit</text>
<text transform="translate(336.2 882) rotate(-45)" class="xl">24bit</text>
<text transform="translate(355.95 882) rotate(-45)" class="xl">28bit</text>
<text transform="translate(375.7 882) rotate(-45)" class="xl">32bit</text>
<text x="241.9" y="770.9" class="tt" textLength="133.4" lengthAdjust="spacingAndGlyphs">% Error estimation in slice FFs</text>
<text x="265.1" y="784.6" class="tt" textLength="88" lengthAdjust="spacingAndGlyphs">utilization (HC PPA)</text>
<text x="239.2" y="924.6" class="cp">(j) FFs (Han-Carlson PPA)</text>
</svg>
</body></html>
